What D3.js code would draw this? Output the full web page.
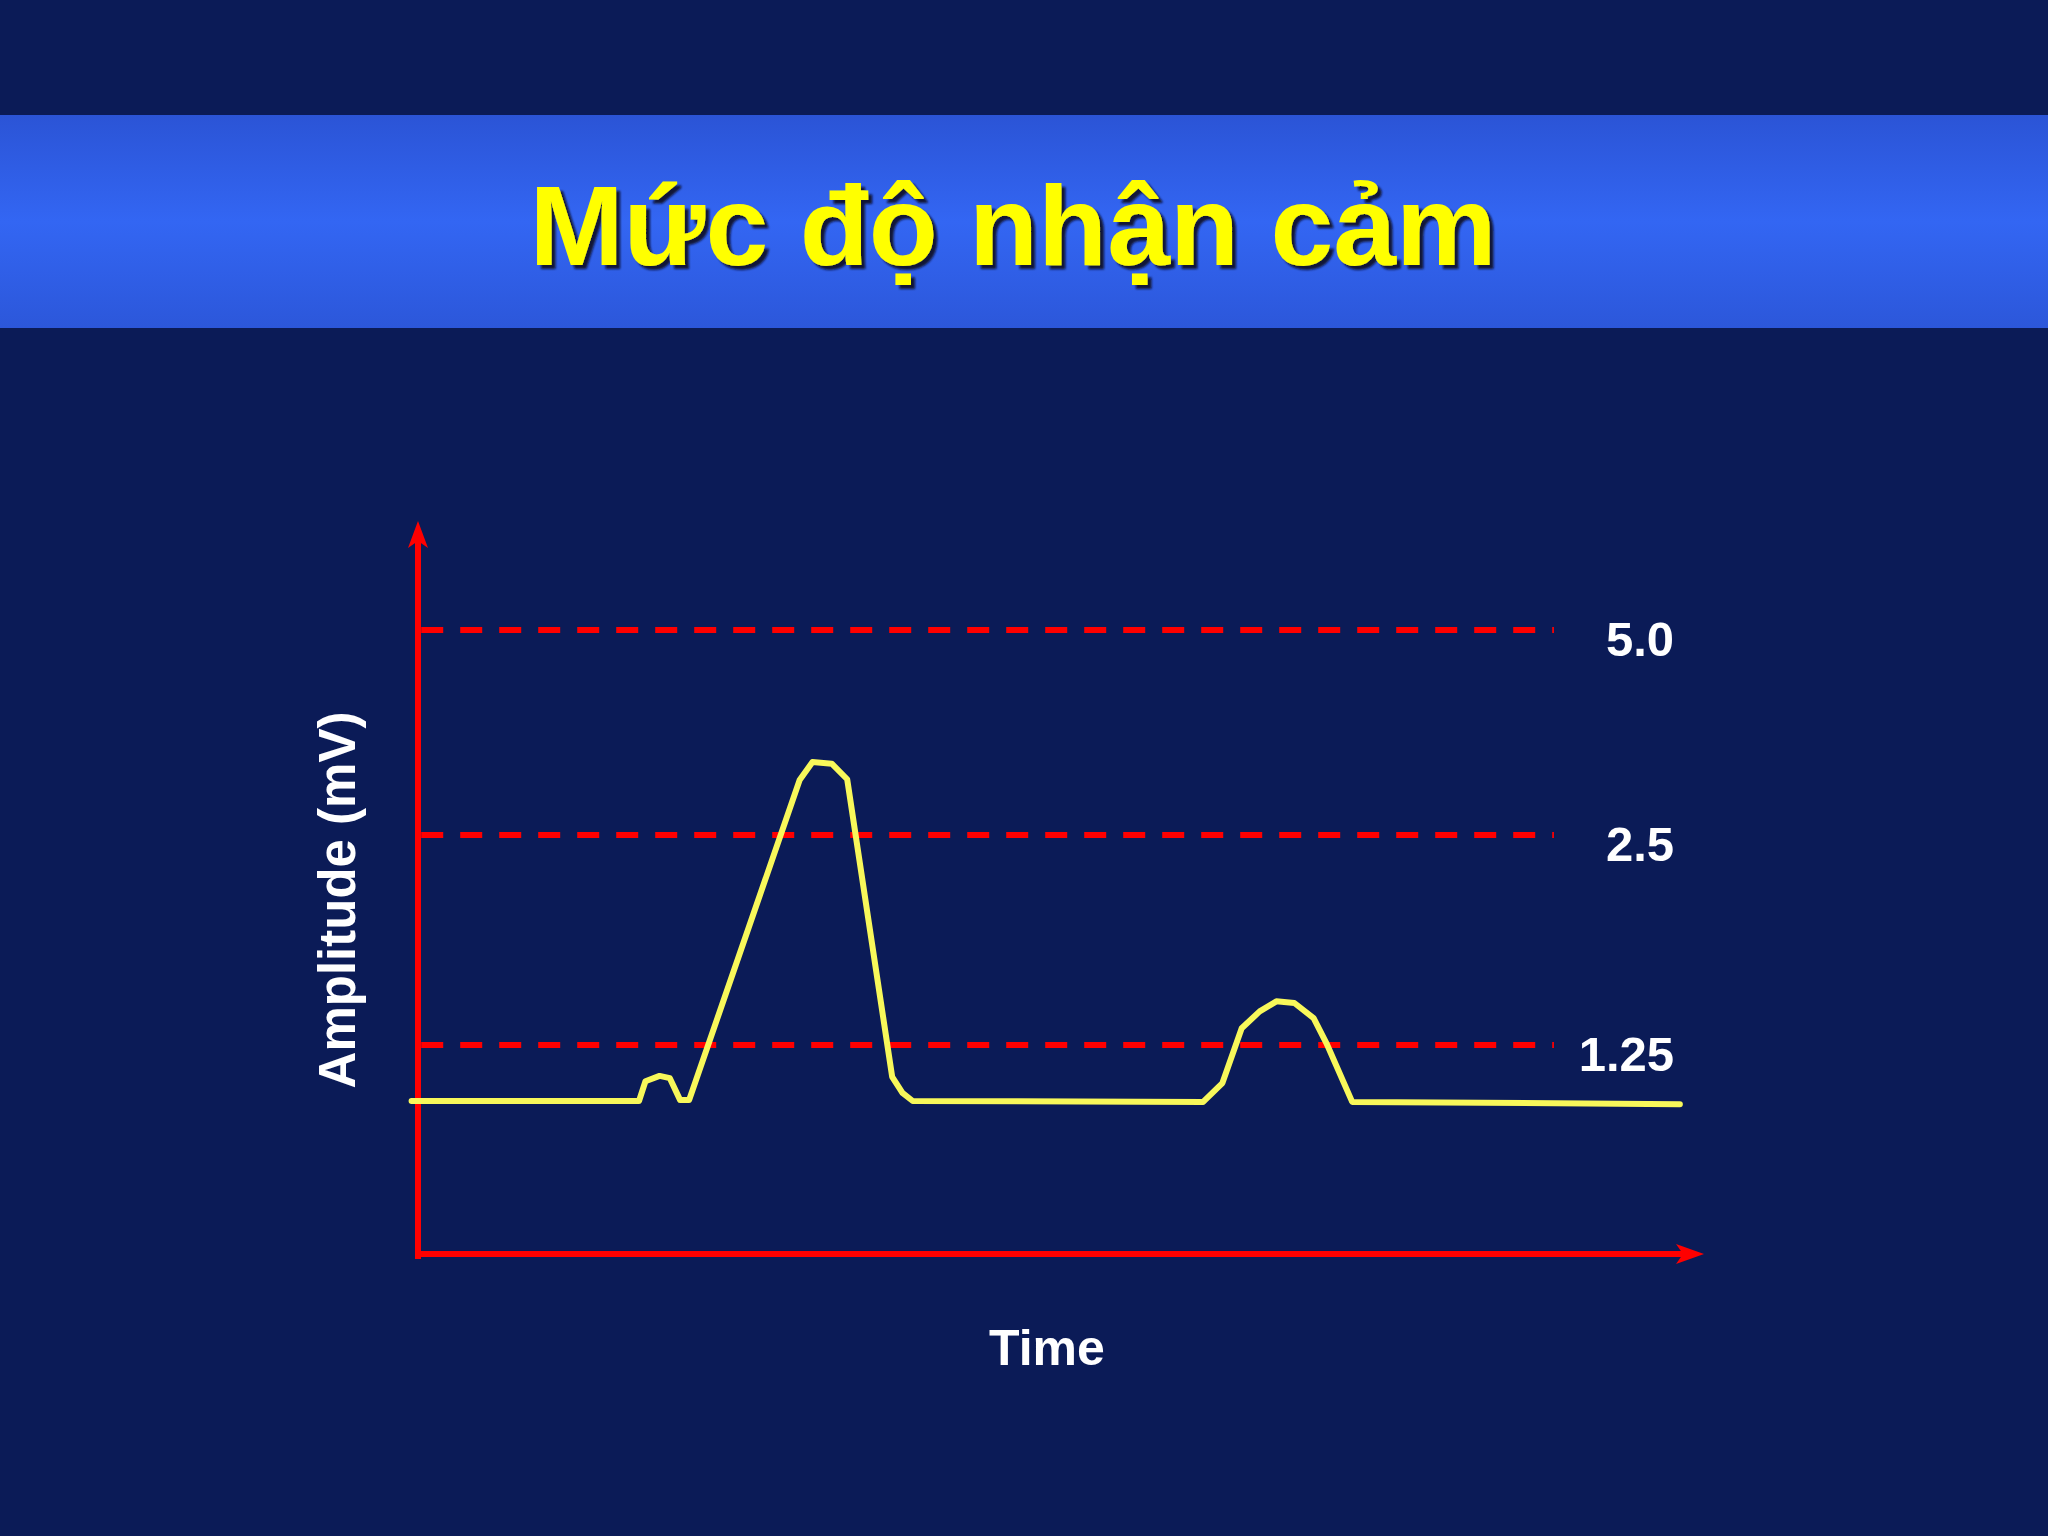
<!DOCTYPE html>
<html>
<head>
<meta charset="utf-8">
<script src="https://cdn.jsdelivr.net/npm/d3@7"></script>
<style>
  html, body { margin: 0; padding: 0; background: #0b1b57; }
  svg { display: block; }
</style>
</head>
<body>
<svg id="container"></svg>
<script>
// waveform samples: time (ms, arbitrary) and amplitude (mV)
const timeMs = [-5, 172, 177, 188, 196, 204, 211, 297, 307, 322, 334, 369, 377, 385,
  611, 626, 641, 655, 668, 682, 697, 707, 727, 982];
const amplitudeMv = [0, 0, 0.44, 0.56, 0.51, 0.02, 0.02, 3.17, 3.39, 3.37, 3.18, 0.54, 0.18, 0,
  -0.02, 0.4, 1.35, 1.45, 1.51, 1.5, 1.41, 1.26, -0.02, -0.07];

// threshold levels (dashed lines) and their labels
const levels = [5.0, 2.5, 1.25];
const levelLabels = ["5.0", "2.5", "1.25"];

const title = "Mức độ nhận cảm";
const yTitle = "Amplitude (mV)";
const xTitle = "Time";

const width = 2048;
const height = 1536;
const font = "'Liberation Sans', Arial, Helvetica, sans-serif";

const svg = d3.select("#container")
    .attr("width", width)
    .attr("height", height);

const defs = svg.append("defs");
const grad = defs.append("linearGradient")
    .attr("id", "band")
    .attr("x1", 0).attr("y1", 0).attr("x2", 0).attr("y2", 1);
grad.append("stop").attr("offset", "0%").attr("stop-color", "#2b54d6");
grad.append("stop").attr("offset", "50%").attr("stop-color", "#3366f3");
grad.append("stop").attr("offset", "100%").attr("stop-color", "#2c57da");

const shadow = defs.append("filter").attr("id", "shadow")
    .attr("x", "-5%").attr("y", "-10%").attr("width", "110%").attr("height", "130%");
shadow.append("feDropShadow")
    .attr("dx", 4).attr("dy", 4).attr("stdDeviation", 0.8)
    .attr("flood-color", "#0a0a20").attr("flood-opacity", 0.9);

// background + title band
svg.append("rect").attr("width", width).attr("height", height).attr("fill", "#0b1b57");
svg.append("rect").attr("x", 0).attr("y", 115).attr("width", width).attr("height", 213)
    .attr("fill", "url(#band)");

svg.append("text")
    .attr("x", 1013).attr("y", 265)
    .attr("text-anchor", "middle")
    .attr("font-family", font).attr("font-weight", "bold").attr("font-size", 113)
    .attr("fill", "#ffff00")
    .attr("filter", "url(#shadow)")
    .text(title);

// scales
const x = d3.scaleLinear().domain([0, 1000]).range([418, 1703]);
// schematic (non-uniform) amplitude axis, as drawn on the slide
const y = d3.scaleLinear().domain([0, 1.25, 2.5, 5.0]).range([1101, 1045, 835, 630]);

const red = "#ff0000";

// dashed threshold lines
svg.selectAll(".level")
    .data(levels)
    .enter().append("line")
    .attr("class", "level")
    .attr("x1", x(2.5)).attr("x2", x(884))
    .attr("y1", d => y(d)).attr("y2", d => y(d))
    .attr("stroke", red).attr("stroke-width", 6)
    .attr("stroke-dasharray", "22 17");

svg.selectAll(".levelLabel")
    .data(levels)
    .enter().append("text")
    .attr("class", "levelLabel")
    .attr("x", 1674)
    .attr("y", d => y(d) + 26)
    .attr("text-anchor", "end")
    .attr("font-family", font).attr("font-weight", "bold").attr("font-size", 49)
    .attr("fill", "#ffffff")
    .text((d, i) => levelLabels[i]);

// axes with arrow heads
const x0 = x(0);
const yAxisY = 1254;
svg.append("line")
    .attr("x1", x0).attr("x2", x0).attr("y1", 1259).attr("y2", 540)
    .attr("stroke", red).attr("stroke-width", 6);
svg.append("path")
    .attr("d", `M${x0},521 L${x0 + 10},548 L${x0},541 L${x0 - 10},548 Z`)
    .attr("fill", red);

svg.append("line")
    .attr("x1", x0 + 2).attr("x2", 1688).attr("y1", yAxisY).attr("y2", yAxisY)
    .attr("stroke", red).attr("stroke-width", 6);
svg.append("path")
    .attr("d", `M1704,${yAxisY} L1676,${yAxisY - 10} L1683,${yAxisY} L1676,${yAxisY + 10} Z`)
    .attr("fill", red);

// waveform
const points = timeMs.map((t, i) => [t, amplitudeMv[i]]);
const line = d3.line()
    .x(d => x(d[0]))
    .y(d => y(d[1]));

svg.append("path")
    .datum(points)
    .attr("d", line)
    .attr("fill", "none")
    .attr("stroke", "#f8f85a")
    .attr("stroke-width", 6)
    .attr("stroke-linejoin", "round")
    .attr("stroke-linecap", "round");

// axis titles
svg.append("text")
    .attr("transform", "translate(355,900) rotate(-90)")
    .attr("text-anchor", "middle")
    .attr("font-family", font).attr("font-weight", "bold").attr("font-size", 51)
    .attr("fill", "#ffffff")
    .text(yTitle);

svg.append("text")
    .attr("x", 1047).attr("y", 1365)
    .attr("text-anchor", "middle")
    .attr("font-family", font).attr("font-weight", "bold").attr("font-size", 50)
    .attr("fill", "#ffffff")
    .text(xTitle);
</script>
</body>
</html>
